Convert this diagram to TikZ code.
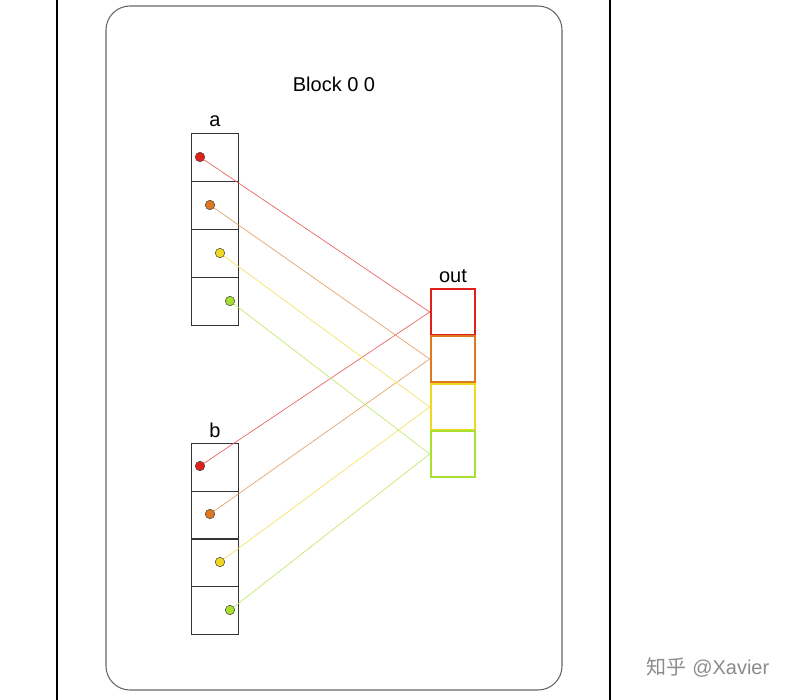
\documentclass[tikz,border=0pt]{standalone}
\usepackage{fontspec}
\setmainfont{Liberation Sans}
\newfontfamily\cjk{Noto Sans CJK SC}
\definecolor{cR}{HTML}{E0201A}
\definecolor{cO}{HTML}{E07820}
\definecolor{cY}{HTML}{F0D820}
\definecolor{cG}{HTML}{A8E030}
\begin{document}
\begin{tikzpicture}[x=0.75pt,y=-0.75pt,
  cell/.style={draw=black!80,line width=0.5pt,minimum width=35.25pt,minimum height=36pt,inner sep=0,anchor=north west},
  obox/.style={draw=#1,line width=1.5pt,minimum width=33.5pt,minimum height=34pt,inner sep=0},
  dot/.style={circle,fill=#1,draw=black!70,line width=0.3pt,inner sep=0,minimum size=7pt},
  wire/.style={draw=#1!70,line width=0.5pt},
  lbl/.style={font=\fontsize{15}{15}\selectfont}]
\useasboundingbox (0,0) rectangle (800,700);
\fill[white] (0,0) rectangle (800,700);
\draw[line width=0.8pt] (57,0) -- (57,700);
\draw[line width=0.8pt] (610,0) -- (610,700);
\draw[black!60,line width=0.8pt,rounded corners=18pt] (106,6) rectangle (562,690);
\node[lbl] (title) at (334,84) {Block 0 0};
\node[lbl] (la) at (215,121) {a};
\node[lbl] (lb) at (215,430) {b};
\node[lbl] (lo) at (453,276) {out};
\foreach \i/\y in {0/133,1/181,2/229,3/277}{\node[cell] (a\i) at (191,\y) {};}
\foreach \i/\y in {0/443,1/491,2/538,3/586}{\node[cell] (b\i) at (191,\y) {};}
\foreach \i/\y/\c in {0/312/cR,1/359/cO,2/407/cY,3/454/cG}{\node[obox=\c] (o\i) at (453,\y) {};}
\foreach \i/\x/\c in {0/200/cR,1/210/cO,2/220/cY,3/230/cG}{
  \node[dot=\c] (da\i) at (\x,{157+48*\i}) {};
  \node[dot=\c] (db\i) at (\x,{466+48*\i}) {};
  \draw[wire=\c] (da\i.center) -- (o\i.west);
  \draw[wire=\c] (db\i.center) -- (o\i.west);
  \node[dot=\c] at (da\i) {};
  \node[dot=\c] at (db\i) {};
}
\node[text=black!45,font=\fontsize{15}{15}\selectfont] (wm) at (708,667) {{\cjk 知乎} @Xavier};
\end{tikzpicture}
\end{document}
